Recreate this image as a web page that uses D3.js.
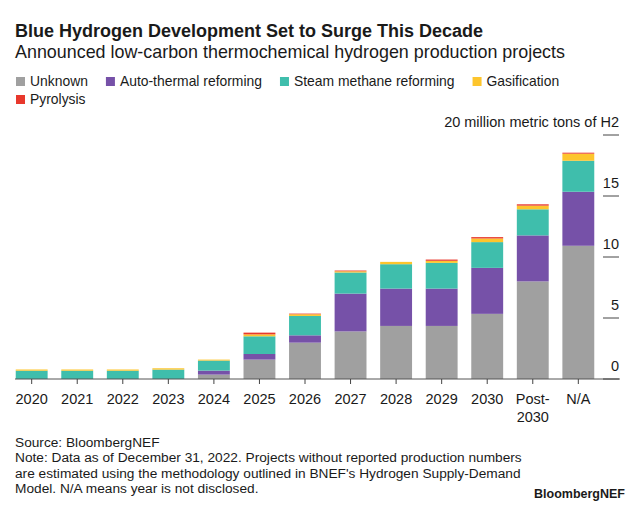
<!DOCTYPE html>
<html>
<head>
<meta charset="utf-8">
<script src="https://cdn.jsdelivr.net/npm/d3@7"></script>
<style>
  body { margin: 0; background: #fff; }
  svg { display: block; font-family: "Liberation Sans", Arial, sans-serif; }
</style>
</head>
<body>
<div id="chart"></div>
<script>
// categories on the x axis
const categories = ["2020", "2021", "2022", "2023", "2024", "2025", "2026", "2027", "2028", "2029", "2030", "Post-2030", "N/A"];

// million metric tons of H2, per technology
const unknown = [0, 0, 0, 0, 0.36, 1.59, 2.98, 3.9, 4.35, 4.35, 5.34, 8.0, 10.92];
const autoThermal = [0, 0, 0, 0, 0.33, 0.46, 0.6, 3.1, 3.06, 3.06, 3.77, 3.77, 4.43];
const steamMethane = [0.68, 0.68, 0.68, 0.77, 0.82, 1.45, 1.59, 1.73, 2.0, 2.11, 2.11, 2.14, 2.54];
const gasification = [0.1, 0.1, 0.1, 0.11, 0.08, 0.16, 0.14, 0.1, 0.19, 0.17, 0.3, 0.3, 0.58];
const pyrolysis = [0, 0, 0, 0, 0, 0.14, 0.05, 0.06, 0, 0.1, 0.11, 0.11, 0.08];

const seriesNames = ["Unknown", "Auto-thermal reforming", "Steam methane reforming", "Gasification", "Pyrolysis"];
const seriesColors = ["#a0a0a0", "#7651a8", "#3fbeac", "#fdc52d", "#e8382c"];
const yTicks = [0, 5, 10, 15, 20];

const width = 640, height = 507;
const textColor = "#1a1a1a";

const svg = d3.select("#chart").append("svg")
  .attr("width", width)
  .attr("height", height);

// title block
svg.append("text")
  .attr("x", 15).attr("y", 37)
  .attr("font-size", "18px").attr("font-weight", "bold")
  .attr("fill", textColor)
  .text("Blue Hydrogen Development Set to Surge This Decade");

svg.append("text")
  .attr("x", 15).attr("y", 58)
  .attr("font-size", "17.9px")
  .attr("fill", textColor)
  .text("Announced low-carbon thermochemical hydrogen production projects");

// legend, wraps after Gasification
const legend = svg.append("g");
let lx = 16, ly = 86;
seriesNames.forEach((name, i) => {
  if (i === 4) { lx = 16; ly += 18; }
  legend.append("rect")
    .attr("x", lx).attr("y", ly - 9)
    .attr("width", 9).attr("height", 9)
    .attr("fill", seriesColors[i]);
  const t = legend.append("text")
    .attr("x", lx + 14).attr("y", ly)
    .attr("font-size", "13.9px")
    .attr("fill", textColor)
    .text(name);
  lx += 14 + t.node().getComputedTextLength() + 18;
});

// stack the series
const rows = categories.map((c, i) => ({
  cat: c,
  "Unknown": unknown[i],
  "Auto-thermal reforming": autoThermal[i],
  "Steam methane reforming": steamMethane[i],
  "Gasification": gasification[i],
  "Pyrolysis": pyrolysis[i]
}));
const stacked = d3.stack().keys(seriesNames)(rows);

const x = d3.scaleBand()
  .domain(categories)
  .range([8.9, 601.1])
  .paddingInner(0.3)
  .paddingOuter(0.15);

const y = d3.scaleLinear()
  .domain([0, 20])
  .range([379, 135]);

const color = d3.scaleOrdinal().domain(seriesNames).range(seriesColors);

svg.append("g")
  .selectAll("g")
  .data(stacked)
  .join("g")
  .attr("fill", d => color(d.key))
  .selectAll("rect")
  .data(d => d)
  .join("rect")
  .attr("x", d => x(d.data.cat))
  .attr("width", x.bandwidth())
  .attr("y", d => y(d[1]))
  .attr("height", d => y(d[0]) - y(d[1]));

// baseline and x ticks
svg.append("line")
  .attr("x1", 15).attr("x2", 620)
  .attr("y1", y(0)).attr("y2", y(0))
  .attr("stroke", "#555").attr("stroke-width", 1);

const xAxis = svg.append("g");
categories.forEach(c => {
  const cx = x(c) + x.bandwidth() / 2;
  xAxis.append("line")
    .attr("x1", cx).attr("x2", cx)
    .attr("y1", y(0)).attr("y2", y(0) + 5)
    .attr("stroke", "#444");
  const parts = c === "Post-2030" ? ["Post-", "2030"] : [c];
  const t = xAxis.append("text")
    .attr("x", cx).attr("y", 404)
    .attr("text-anchor", "middle")
    .attr("font-size", "14.5px")
    .attr("fill", textColor);
  parts.forEach((p, k) => {
    t.append("tspan").attr("x", cx).attr("dy", k === 0 ? 0 : 18).text(p);
  });
});

// right-hand y axis: short tick lines with labels above them
const yAxis = svg.append("g");
yTicks.forEach(v => {
  yAxis.append("line")
    .attr("x1", 603).attr("x2", 619)
    .attr("y1", y(v)).attr("y2", y(v))
    .attr("stroke", "#444");
  yAxis.append("text")
    .attr("x", 619).attr("y", y(v) - 8)
    .attr("text-anchor", "end")
    .attr("font-size", "14.5px")
    .attr("fill", textColor)
    .text(v === 20 ? "20 million metric tons of H2" : v);
});

// footer
const notes = [
  "Source: BloombergNEF",
  "Note: Data as of December 31, 2022. Projects without reported production numbers",
  "are estimated using the methodology outlined in BNEF's Hydrogen Supply-Demand",
  "Model. N/A means year is not disclosed."
];
notes.forEach((n, i) => {
  svg.append("text")
    .attr("x", 15).attr("y", 447 + i * 15.4)
    .attr("font-size", "13.7px")
    .attr("fill", textColor)
    .text(n);
});

svg.append("text")
  .attr("x", 625).attr("y", 498)
  .attr("text-anchor", "end")
  .attr("font-size", "12.5px").attr("font-weight", "bold")
  .attr("fill", textColor)
  .text("BloombergNEF");
</script>
</body>
</html>
